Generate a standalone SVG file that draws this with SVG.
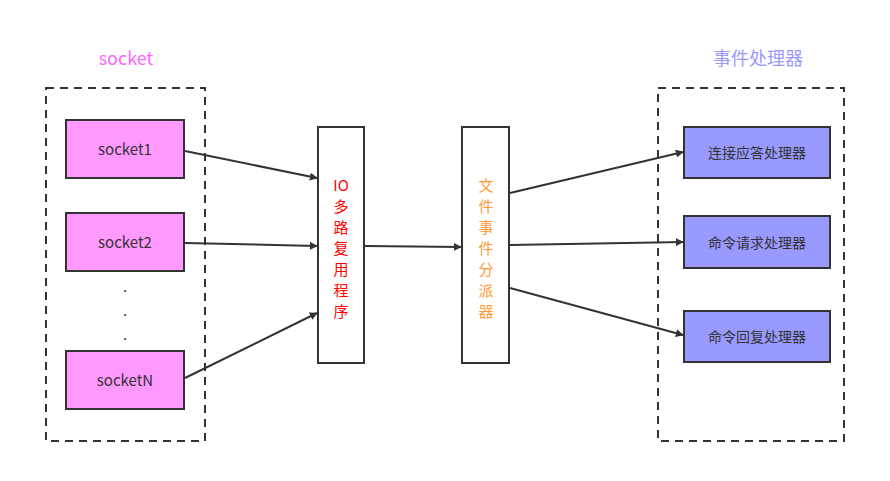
<svg xmlns="http://www.w3.org/2000/svg" width="890" height="481" viewBox="0 0 890 481">
<style>
text{font-family:"Noto Sans CJK SC","Open Sans",sans-serif;}
.dash{fill:none;stroke:#333;stroke-width:2;stroke-dasharray:8 6;}
.sock{fill:#ff99ff;stroke:#333;stroke-width:2;}
.hand{fill:#9999ff;stroke:#333;stroke-width:2;}
.box{fill:#fff;stroke:#333;stroke-width:2;}
.lbl{font-size:15px;fill:#333;text-anchor:middle;}
.hl{font-size:14px;fill:#333;text-anchor:middle;}
.conn line{stroke:#333;stroke-width:2;marker-end:url(#ah);}
</style>
<defs><marker id="ah" viewBox="0 0 10 10" refX="9" refY="5" markerWidth="8" markerHeight="8" markerUnits="userSpaceOnUse" orient="auto"><path d="M0,0L10,5L0,10z" fill="#333" transform="scale(1)"/></marker>
<marker id="a2" viewBox="0 0 10 10" refX="9" refY="5" markerWidth="16" markerHeight="12" orient="auto"/></defs>
<rect width="890" height="481" fill="#fff"/>
<g id="socketGroup"><rect class="dash" x="46" y="88" width="159" height="353"/><text x="126" y="65" font-size="18" fill="#ff66ff" text-anchor="middle">socket</text></g>
<g id="handlerGroup"><rect class="dash" x="658" y="88" width="186" height="353"/><text x="758" y="65" font-size="18" fill="#9999ff" text-anchor="middle">事件处理器</text></g>
<g id="s1"><rect class="sock" x="66" y="120" width="118" height="58"/><text class="lbl" x="125" y="155">socket1</text></g>
<g id="s2"><rect class="sock" x="66" y="213" width="118" height="58"/><text class="lbl" x="125" y="248">socket2</text></g>
<g id="dots"><text class="lbl" x="125" y="292">.</text><text class="lbl" x="125" y="316">.</text><text class="lbl" x="125" y="340">.</text></g>
<g id="sN"><rect class="sock" x="66" y="351" width="118" height="58"/><text class="lbl" x="125" y="386">socketN</text></g>
<g id="io"><rect class="box" x="318" y="127" width="46" height="236"/><text font-size="15" fill="#ff0000" text-anchor="middle"><tspan x="341" y="191">IO</tspan><tspan x="341" y="212">多</tspan><tspan x="341" y="233">路</tspan><tspan x="341" y="254">复</tspan><tspan x="341" y="275">用</tspan><tspan x="341" y="296">程</tspan><tspan x="341" y="317">序</tspan></text></g>
<g id="disp"><rect class="box" x="462" y="127" width="47" height="236"/><text font-size="15" fill="#ff9933" text-anchor="middle"><tspan x="486" y="191">文</tspan><tspan x="486" y="212">件</tspan><tspan x="486" y="233">事</tspan><tspan x="486" y="254">件</tspan><tspan x="486" y="275">分</tspan><tspan x="486" y="296">派</tspan><tspan x="486" y="317">器</tspan></text></g>
<g id="h1"><rect class="hand" x="684" y="127" width="146" height="51"/><text class="hl" x="757" y="158">连接应答处理器</text></g>
<g id="h2"><rect class="hand" x="684" y="216" width="146" height="52"/><text class="hl" x="757" y="248">命令请求处理器</text></g>
<g id="h3"><rect class="hand" x="684" y="311" width="146" height="51"/><text class="hl" x="757" y="342">命令回复处理器</text></g>
<g class="conn" id="connectors">
<line x1="185" y1="151" x2="317" y2="178"/>
<line x1="185" y1="243" x2="317" y2="246"/>
<line x1="185" y1="378" x2="317" y2="313"/>
<line x1="365" y1="246" x2="461" y2="247"/>
<line x1="510" y1="193" x2="683" y2="152"/>
<line x1="510" y1="245" x2="683" y2="242"/>
<line x1="510" y1="288" x2="683" y2="335"/>
</g>
</svg>
